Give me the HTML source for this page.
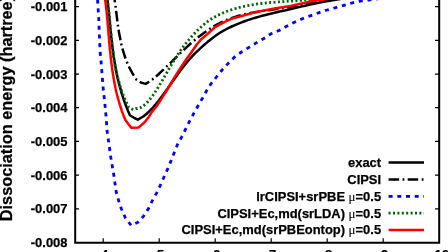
<!DOCTYPE html>
<html><head><meta charset="utf-8"><style>
html,body{margin:0;padding:0;background:#fff;overflow:hidden}
svg{display:block}
</style></head><body>
<svg width="448" height="252" viewBox="0 0 448 252">
<rect width="448" height="252" fill="#fff"/>
<g fill="none" stroke-linejoin="round">
<polyline points="106.1,-10.0 106.6,-6.9 107.0,-3.7 107.4,-0.6 107.7,2.5 108.1,5.6 108.4,8.8 108.8,11.9 109.1,15.0 109.4,18.2 109.7,21.3 110.0,24.4 110.3,27.6 110.7,30.7 111.0,33.8 111.3,36.9 111.7,40.1 112.0,43.2 112.4,46.3 112.8,49.5 113.2,52.6 113.6,55.7 114.1,58.9 114.6,62.0 115.1,65.1 115.7,68.2 116.3,71.4 116.9,74.5 117.6,77.6 118.3,80.8 119.1,83.9 119.9,87.0 120.8,90.2 121.7,93.3 122.7,96.4 123.7,99.5 124.8,102.7 126.0,105.8 127.2,108.9 128.5,112.1 129.9,115.2 134.0,117.8 137.8,119.7 143.3,116.5 146.4,114.0 149.4,111.2 152.5,108.0 155.5,104.5 158.6,100.7 161.6,96.7 164.7,92.6 167.7,88.4 170.8,84.1 173.8,79.8 176.9,75.5 179.9,71.3 183.0,67.3 186.0,63.4 189.1,59.7 192.1,56.4 195.2,53.2 198.2,50.3 201.3,47.4 204.3,44.7 207.4,42.1 210.4,39.7 213.5,37.3 216.6,35.1 219.6,33.0 222.7,31.2 225.7,29.5 228.8,27.9 231.8,26.5 234.9,25.1 237.9,23.8 241.0,22.6 244.0,21.5 247.1,20.4 250.1,19.4 253.2,18.4 256.2,17.5 259.3,16.6 262.3,15.8 265.4,15.0 268.4,14.2 271.5,13.5 274.5,12.8 277.6,12.0 280.6,11.3 283.7,10.7 286.7,10.0 289.8,9.3 292.9,8.6 295.9,7.8 299.0,7.1 302.0,6.4 305.1,5.7 308.1,5.1 311.2,4.4 314.2,3.7 317.3,3.1 320.3,2.4 323.4,1.8 326.4,1.2 329.5,0.7 332.5,0.2 335.6,-0.3 338.6,-0.8 341.7,-1.2 344.7,-1.6 347.8,-2.0 350.8,-2.3 353.9,-2.6 356.9,-2.8 360.0,-3.0" stroke="#000" stroke-width="2.5"/>
<polyline points="113.1,-10.0 113.6,-6.8 114.1,-3.6 114.6,-0.4 115.0,2.8 115.5,6.0 115.9,9.2 116.3,12.4 116.7,15.7 117.1,18.9 117.5,22.1 117.9,25.3 118.4,28.5 118.9,31.7 119.5,34.9 120.1,38.1 120.7,41.3 121.4,44.5 122.2,47.7 123.1,50.9 124.1,54.1 125.1,57.3 126.3,60.6 127.6,63.8 129.1,67.0 130.7,70.2 132.5,73.4 134.4,76.6 136.6,79.8 141.2,82.6 145.6,83.9 149.6,81.5 152.7,79.2 155.7,76.7 158.8,74.0 161.8,71.2 164.9,68.3 167.9,65.4 171.0,62.4 174.0,59.4 177.1,56.3 180.1,53.4 183.2,50.4 186.2,47.6 189.3,44.8 192.3,42.1 195.4,39.5 198.4,37.1 201.5,34.7 204.6,32.4 207.6,30.3 210.7,28.2 213.7,26.4 216.8,24.6 219.8,23.0 222.9,21.6 225.9,20.2 229.0,19.0 232.0,17.9 235.1,16.9 238.1,16.0 241.2,15.2 244.2,14.4 247.3,13.8 250.4,13.1 253.4,12.6 256.5,12.0 259.5,11.5 262.6,11.1 265.6,10.6 268.7,10.2 271.7,9.7 274.8,9.3 277.8,8.8 280.9,8.4 283.9,7.9 287.0,7.3 290.0,6.8 293.1,6.3 296.1,5.7 299.2,5.2 302.3,4.7 305.3,4.1 308.4,3.6 311.4,3.0 314.5,2.5 317.5,2.0 320.6,1.4 323.6,0.9 326.7,0.4 329.7,-0.0 332.8,-0.5 335.8,-0.9 338.9,-1.3 341.9,-1.7 345.0,-2.1" stroke="#000" stroke-width="2.5" stroke-dasharray="10.5 3.5 1.8 3.3" stroke-dashoffset="-2"/>
<polyline points="97.2,-10.0 97.6,0.0 98.7,18.0 99.4,36.0 100.2,53.0 101.0,61.0 103.3,90.0 104.5,100.0 105.9,114.6 107.0,130.0 108.5,140.9 110.9,158.0 113.8,175.1 116.3,192.5 118.7,200.9 121.4,209.0 125.6,218.3 131.2,225.4 138.0,222.3 143.6,216.1 148.5,208.5 152.7,200.0 156.8,192.6 160.4,185.2 164.1,176.7 167.7,168.8 171.0,160.9 174.3,152.5 177.3,144.9 181.7,136.9 185.6,129.2 189.5,121.4 193.6,113.7 198.0,106.0 202.3,98.5 206.3,91.3 211.2,83.5 216.4,77.0 222.1,70.0 228.0,63.6 234.5,57.1 241.5,52.0 248.6,47.6 256.2,42.9 263.9,38.5 270.3,34.1 279.6,30.2 286.6,26.2 294.5,22.2 302.3,18.7 310.2,15.9 318.6,12.8 327.1,10.0 335.1,7.8 343.8,5.4 352.2,2.9 360.5,1.1 369.2,0.0 390.0,-3.0" stroke="#00f" stroke-width="2.8" stroke-dasharray="0.00,1.00,4.00,4.70,4.00,4.70,4.00,4.70,4.00,4.70,4.00,4.70,4.00,4.70,4.00,4.70,4.00,4.70,4.00,4.70,4.00,4.70,4.00,4.70,4.00,4.70,4.00,4.70,4.00,4.70,4.00,4.70,4.00,4.70,4.00,4.70,4.00,4.70,4.00,4.70,4.00,4.70,4.00,4.70,4.00,4.70,4.00,4.70,4.00,4.70,4.00,4.70,4.00,4.70,4.00,4.70,4.00,4.73,4.00,4.76,4.00,4.76,4.00,4.76,4.00,4.76,4.00,4.76,4.00,4.76,4.00,4.76,4.00,4.76,4.00,4.76,4.00,4.76,4.00,4.76,4.00,4.76,4.00,4.76,4.00,4.76,4.00,4.76,4.00,4.76,4.00,4.76,4.00,4.76,4.00,4.76,4.00,4.76,4.00,4.76,4.00,4.76,4.00,4.76,4.00,4.76,4.00,4.76,4.00,4.76,4.00,4.76,4.00,4.76,4.00,4.76,4.00,4.76,4.00,4.76,4.00,4.76,4.00,4.76,4.00,4.76,4.00,4.76,4.00,4.76,4.00,4.76,4.00,4.76,4.00,4.76,4.00,4.76,4.00,4.76,4.00,4.76,4.00,20.00"/>
<polyline points="106.0,-10.0 106.5,-6.9 107.0,-3.8 107.4,-0.7 107.8,2.3 108.2,5.4 108.6,8.5 108.9,11.6 109.2,14.7 109.5,17.8 109.8,20.8 110.0,23.9 110.3,27.0 110.6,30.1 110.9,33.2 111.2,36.3 111.5,39.3 111.8,42.4 112.1,45.5 112.5,48.6 112.9,51.7 113.3,54.8 113.7,57.9 114.2,60.9 114.7,64.0 115.3,67.1 116.0,70.2 116.6,73.3 117.4,76.4 118.2,79.4 119.0,82.5 120.0,85.6 121.0,88.7 122.0,91.8 123.2,94.9 124.4,97.9 125.8,101.0 127.2,104.1 128.7,107.2 131.8,109.0 133.8,109.4 135.9,108.5 137.4,108.6 140.5,107.6 143.6,105.7 146.7,102.9 149.8,99.4 152.9,95.3 156.0,90.7 159.1,85.8 162.2,80.6 165.3,75.3 168.3,70.0 171.4,64.8 174.5,59.7 177.6,54.8 180.7,50.3 183.8,46.0 186.9,42.1 190.0,38.4 193.1,34.9 196.2,31.7 199.3,28.6 202.4,25.8 205.5,23.1 208.6,20.8 211.7,18.7 214.8,16.9 217.9,15.2 221.0,13.8 224.1,12.5 227.2,11.3 230.2,10.2 233.3,9.2 236.4,8.3 239.5,7.4 242.6,6.7 245.7,6.0 248.8,5.4 251.9,4.8 255.0,4.3 258.1,3.9 261.2,3.5 264.3,3.1 267.4,2.8 270.5,2.5 273.6,2.3 276.7,2.0 279.8,1.8 282.9,1.6 286.0,1.4 289.1,1.2 292.1,1.0 295.2,0.8 298.3,0.5 301.4,0.3 304.5,0.0 307.6,-0.3 310.7,-0.6 313.8,-1.0 316.9,-1.4 320.0,-1.8" stroke="#006400" stroke-width="2.8" stroke-dasharray="2 2.4" stroke-dashoffset="0"/>
<polyline points="103.7,-10.0 104.2,-6.9 104.7,-3.8 105.1,-0.7 105.5,2.4 105.9,5.5 106.2,8.6 106.6,11.7 106.9,14.8 107.2,17.9 107.5,21.0 107.7,24.1 108.0,27.2 108.3,30.3 108.5,33.4 108.8,36.5 109.1,39.6 109.3,42.7 109.6,45.8 109.9,48.9 110.2,52.0 110.5,55.0 110.8,58.1 111.2,61.2 111.6,64.3 112.0,67.4 112.4,70.5 112.9,73.6 113.4,76.7 113.9,79.8 114.5,82.9 115.1,86.0 115.7,89.1 116.4,92.2 117.2,95.3 118.0,98.4 118.9,101.5 119.8,104.6 120.8,107.7 121.8,110.8 122.9,113.9 124.1,117.0 125.4,120.1 131.2,127.8 138.8,127.4 144.8,122.0 148.8,117.0 151.9,111.9 156.8,106.0 160.3,100.6 166.7,90.5 172.4,80.8 174.8,77.0 180.2,68.5 186.0,59.8 192.5,50.7 196.8,44.5 201.2,39.3 207.1,34.4 214.7,27.5 221.0,23.9 227.9,20.4 232.9,18.4 240.0,16.5 246.0,14.7 255.0,12.4 263.0,10.7 276.0,8.3 287.0,6.6 296.0,4.7 306.0,2.5 310.5,1.4 320.3,0.0 340.0,-3.0" stroke="#f00" stroke-width="2.5"/>
</g>
<path d="M75.2,-2 V242.8 H439.2 V-2" fill="none" stroke="#000" stroke-width="2"/>
<path d="M75.2,6.7h3.8M439.2,6.7h-4.2M75.2,40.4h3.8M439.2,40.4h-4.2M75.2,74.1h3.8M439.2,74.1h-4.2M75.2,107.7h3.8M439.2,107.7h-4.2M75.2,141.4h3.8M439.2,141.4h-4.2M75.2,175.1h3.8M439.2,175.1h-4.2M75.2,208.8h3.8M439.2,208.8h-4.2M75.2,242.5h3.8M439.2,242.5h-4.2M103.2,242.8v-4.5M159.2,242.8v-4.5M215.2,242.8v-4.5M271.2,242.8v-4.5M327.2,242.8v-4.5M383.2,242.8v-4.5" stroke="#000" stroke-width="1.2" fill="none"/>
<g font-family='"Liberation Sans", Arial, Helvetica, sans-serif' font-weight="bold" font-size="12.95" fill="#000" stroke="#000" stroke-width="0.25">
<text x="67.5" y="11.2" text-anchor="end">-0.001</text>
<text x="67.5" y="44.9" text-anchor="end">-0.002</text>
<text x="67.5" y="78.6" text-anchor="end">-0.003</text>
<text x="67.5" y="112.2" text-anchor="end">-0.004</text>
<text x="67.5" y="145.9" text-anchor="end">-0.005</text>
<text x="67.5" y="179.6" text-anchor="end">-0.006</text>
<text x="67.5" y="213.3" text-anchor="end">-0.007</text>
<text x="67.5" y="247.0" text-anchor="end">-0.008</text>
<text x="104.7" y="258.8" text-anchor="middle">4</text>
<text x="160.7" y="258.8" text-anchor="middle">5</text>
<text x="216.7" y="258.8" text-anchor="middle">6</text>
<text x="272.7" y="258.8" text-anchor="middle">7</text>
<text x="328.7" y="258.8" text-anchor="middle">8</text>
<text x="384.7" y="258.8" text-anchor="middle">9</text>
<text x="441.7" y="258.8" text-anchor="middle">10</text>
<text x="381.1" y="167.1" text-anchor="end">exact</text>
<text x="381.1" y="183.9" text-anchor="end">CIPSI</text>
<text x="381.1" y="200.7" text-anchor="end">lrCIPSI+srPBE <tspan font-family='"Liberation Serif", serif' font-weight="normal" stroke-width="0.1">μ</tspan>=0.5</text>
<text x="381.1" y="217.5" text-anchor="end">CIPSI+Ec,md(srLDA) <tspan font-family='"Liberation Serif", serif' font-weight="normal" stroke-width="0.1">μ</tspan>=0.5</text>
<text x="381.1" y="234.3" text-anchor="end">CIPSI+Ec,md(srPBEontop) <tspan font-family='"Liberation Serif", serif' font-weight="normal" stroke-width="0.1">μ</tspan>=0.5</text>
</g>
<line x1="388.6" y1="162.4" x2="424" y2="162.4" stroke="#000" stroke-width="2.5"/>
<line x1="388.6" y1="179.5" x2="424" y2="179.5" stroke="#000" stroke-width="2.5" stroke-dasharray="10.5 3.5 1.8 3.3"/>
<line x1="388.6" y1="196.4" x2="424" y2="196.4" stroke="#00f" stroke-width="2.8" stroke-dasharray="4 4.7"/>
<line x1="388.6" y1="213.2" x2="424" y2="213.2" stroke="#006400" stroke-width="2.8" stroke-dasharray="2 2.4"/>
<line x1="388.6" y1="230.1" x2="424" y2="230.1" stroke="#f00" stroke-width="2.5"/>
<text transform="translate(11.9,221.2) rotate(-90)" font-family='"Liberation Sans", Arial, Helvetica, sans-serif' font-weight="bold" font-size="16.3" stroke="#000" stroke-width="0.25">Dissociation energy (hartree)</text>
</svg>
</body></html>
